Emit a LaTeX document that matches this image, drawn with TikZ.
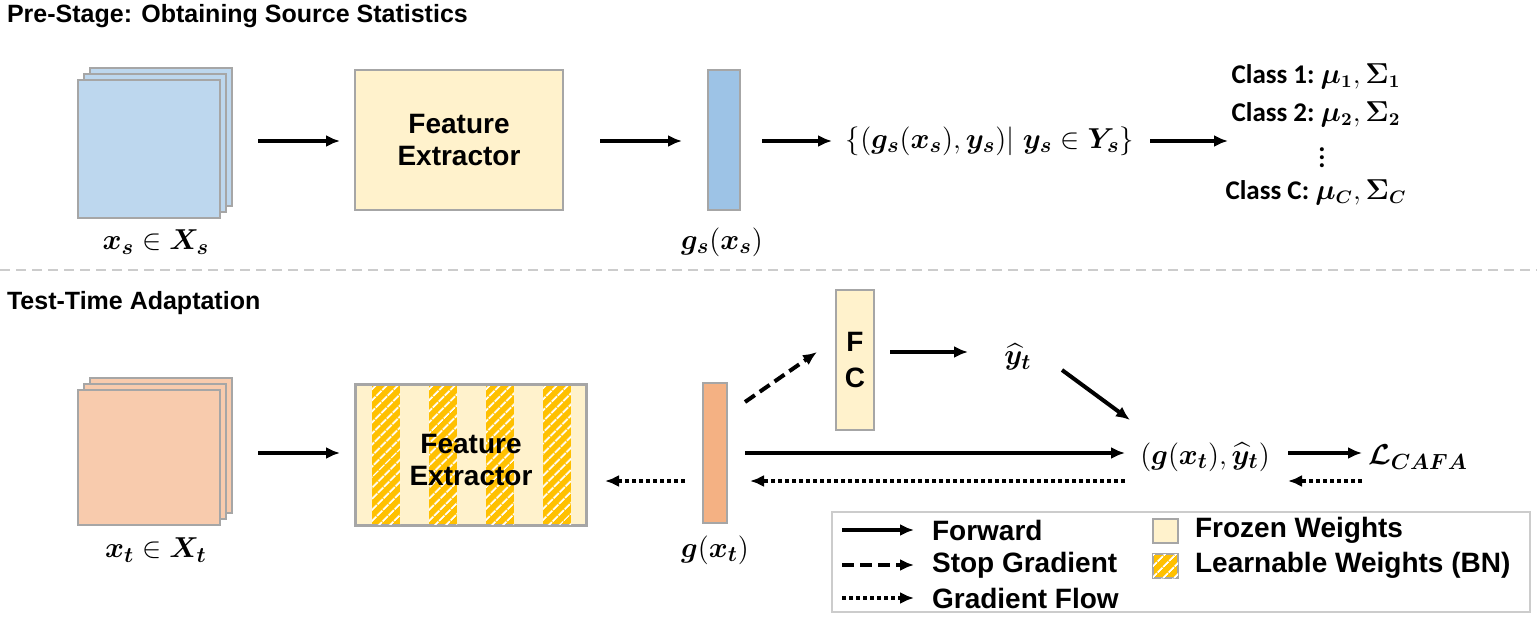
\documentclass[tikz,border=0pt]{standalone}
\usepackage{fontspec}
\setmainfont{Liberation Sans}
\newfontfamily\carl{Carlito}
\usepackage{amsmath,bm}
\usetikzlibrary{arrows.meta,patterns.meta}
\definecolor{fz}{HTML}{FFF2CC}
\definecolor{gold}{HTML}{FFC000}
\definecolor{bl}{HTML}{BDD7EE}
\definecolor{blb}{HTML}{9DC3E6}
\definecolor{or}{HTML}{F8CBAD}
\definecolor{orb}{HTML}{F4B183}
\begin{document}
\begin{tikzpicture}[x=0.5pt,y=-0.5pt,
  box/.style={draw=gray!70,line width=1.2pt},
  fw/.style={line width=2pt,-{Latex[length=7pt,width=6pt]}},
  sg/.style={fw,dash pattern=on 6pt off 3pt},
  gf/.style={fw,dash pattern=on 2pt off 1.5pt},
  lbl/.style={font=\fontsize{15}{17}\selectfont},
  bt/.style={font=\bfseries\fontsize{14}{16}\selectfont},
  lt/.style={bt,anchor=west},
  ct/.style={font=\carl\bfseries\fontsize{13.5}{16}\selectfont},
  hatch/.style={fill=gold,postaction={pattern={Lines[angle=45,distance=4pt,line width=0.9pt]},pattern color=white}},
  tt/.style={font=\bfseries\fontsize{12.5}{14}\selectfont,anchor=west}]
\useasboundingbox (0,0) rectangle (1537,620);
\node[tt] (t1) at (0,16) {Pre-Stage: Obtaining Source Statistics};
\node[tt] (t2) at (0,303) {Test-Time Adaptation};
\draw[gray!40,line width=1.2pt,dash pattern=on 5pt off 3pt] (0,270) -- (1537,270);
% top
\foreach \d in {12,6,0} \draw[box,fill=bl] (78+\d,80-\d) rectangle (220+\d,218-\d);
\node[box,fill=fz,minimum width=104pt,minimum height=70pt,bt,align=center] (fe1) at (459,140) {Feature\\Extractor};
\node[box,fill=blb,minimum width=16pt,minimum height=70pt,inner sep=0] (gs) at (724,140) {};
\node[lbl] (set) at (990,141) {$\{(\bm{g_s}(\bm{x_s}),\bm{y_s})|\ \bm{y_s}\in\bm{Y_s}\}$};
\node[ct] (c1) at (1316,76) {Class 1:\ $\bm{\mu_1},\bm{\Sigma_1}$};
\node[ct] (c2) at (1316,114) {Class 2:\ $\bm{\mu_2},\bm{\Sigma_2}$};
\node[ct] (cd) at (1322,152) {$\vdots$};
\node[ct] (c3) at (1316,192) {Class C:\ $\bm{\mu_C},\bm{\Sigma_C}$};
\node[lbl] (xs) at (156,242) {$\bm{x_s}\in\bm{X_s}$};
\node[lbl] (gsl) at (722,242) {$\bm{g_s}(\bm{x_s})$};
\draw[fw] (258,141) -- (340,141);
\draw[fw] (600,141) -- (682,141);
\draw[fw] (762,141) -- (832,141);
\draw[fw] (1150,141) -- (1228,141);
% bottom
\foreach \d in {12,6,0} \draw[box,fill=or] (78+\d,390-\d) rectangle (220+\d,525-\d);
\node[box,fill=fz,minimum width=115pt,minimum height=70pt] (fe2) at (471,455) {};
\foreach \x in {372,429,486,543} \fill[hatch] (\x,386) rectangle (\x+28,524);
\draw[box] (fe2.north west) rectangle (fe2.south east);
\node[bt,align=center] (fe2t) at (471,460) {Feature\\Extractor};
\node[box,fill=orb,minimum width=12pt,minimum height=70pt,inner sep=0] (g) at (715,453) {};
\node[lbl] (xt) at (156,550) {$\bm{x_t}\in\bm{X_t}$};
\node[lbl] (gl) at (715,550) {$\bm{g}(\bm{x_t})$};
\node[box,fill=fz,minimum width=19pt,minimum height=70pt,inner sep=0,bt,align=center] (fc) at (855,360) {F\\[2pt]C};
\node[lbl] (yh) at (1018,357) {$\widehat{\bm{y}}_{\bm{t}}$};
\node[lbl] (pair) at (1205,457) {$(\bm{g}(\bm{x_t}),\widehat{\bm{y}}_{\bm{t}})$};
\node[lbl] (L) at (1418,457) {$\bm{\mathcal{L}_{CAFA}}$};
\draw[fw] (258,453) -- (340,453);
\draw[gf] (685,481) -- (605,481);
\draw[fw] (745,453) -- (1125,453);
\draw[gf] (1125,481) -- (750,481);
\draw[sg] (745,402) -- (817,352);
\draw[fw] (890,352) -- (968,352);
\draw[fw] (1062,370) -- (1130,420);
\draw[fw] (1288,453) -- (1362,453);
\draw[gf] (1362,481) -- (1288,481);
% legend
\draw[draw=gray!40,line width=1pt] (832,512) rectangle (1530,612);
\draw[fw] (842,530) -- ++(72,0);
\draw[sg] (842,565) -- ++(72,0);
\draw[gf] (842,598) -- ++(72,0);
\node[lt] at (925,530) {Forward};
\node[lt] at (925,565) {Stop Gradient};
\node[lt] at (925,598) {Gradient Flow};
\draw[box,fill=fz] (1153,519) rectangle (1178,543);
\draw[box,hatch] (1153,554) rectangle (1178,578);
\node[lt] at (1188,530) {Frozen Weights};
\node[lt] at (1188,565) {Learnable Weights (BN)};
\end{tikzpicture}
\end{document}
